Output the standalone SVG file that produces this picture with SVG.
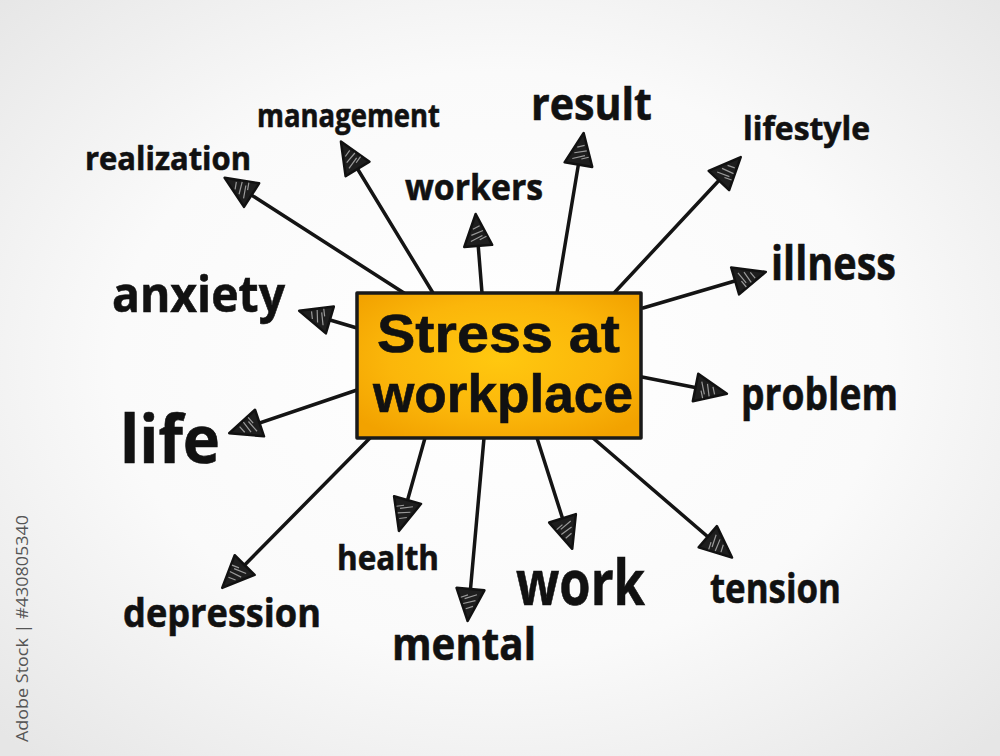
<svg xmlns="http://www.w3.org/2000/svg" width="1000" height="756" viewBox="0 0 1000 756">
<defs>
<radialGradient id="bg" cx="50%" cy="48%" r="70%">
<stop offset="0" stop-color="#ffffff"/>
<stop offset="0.55" stop-color="#fafafa"/>
<stop offset="1" stop-color="#e6e6e6"/>
</radialGradient>
<radialGradient id="boxfill" cx="50%" cy="45%" r="65%">
<stop offset="0" stop-color="#ffc80f"/>
<stop offset="0.6" stop-color="#fbb60a"/>
<stop offset="1" stop-color="#f2a200"/>
</radialGradient>
<marker id="arrow" markerUnits="userSpaceOnUse" viewBox="-3 -17 38 34" markerWidth="38" markerHeight="34" refX="28" refY="0" orient="auto">
<path d="M0,-14 L32,0 L0,14 Z" fill="#1e1e1e" stroke="#111" stroke-width="2.5" stroke-linejoin="round"/>
<path d="M5,-7 L10,5 M11,-6 L15,6 M17,-4 L20,3 M6,2 L9,9" stroke="#9a9a9a" stroke-width="1.2" fill="none"/>
</marker>
<style>
.lbl{font-family:"Open Sans","Noto Sans","Liberation Sans",sans-serif;font-weight:700;fill:#111;stroke:#111;stroke-width:0.6}
.ctr{font-family:"Liberation Sans","Arial",sans-serif;font-weight:700;fill:#111;stroke:#111;stroke-width:0.6}
.wm{font-family:"Open Sans","Liberation Sans",sans-serif;font-size:17px;fill:#555}
.conn line{stroke:#141414;stroke-width:3.5;stroke-linecap:round;marker-end:url(#arrow)}
</style>
</defs>
<rect width="1000" height="756" fill="url(#bg)"/>
<text class="wm" transform="translate(28,742) rotate(-90)" textLength="227" lengthAdjust="spacingAndGlyphs">Adobe Stock | #430805340</text>

<g id="connectors" class="conn">
<line x1="404" y1="293" x2="228" y2="180"/>
<line x1="433" y1="293" x2="343" y2="145"/>
<line x1="482" y1="293" x2="476" y2="218"/>
<line x1="557" y1="293" x2="583" y2="137"/>
<line x1="615" y1="292" x2="738" y2="160"/>
<line x1="643" y1="308" x2="762" y2="273"/>
<line x1="642" y1="377" x2="723" y2="393"/>
<line x1="357" y1="328" x2="303" y2="312"/>
<line x1="357" y1="390" x2="233" y2="432"/>
<line x1="370" y1="438" x2="225" y2="585"/>
<line x1="425" y1="438" x2="400" y2="527"/>
<line x1="484" y1="438" x2="468" y2="617"/>
<line x1="537" y1="438" x2="571" y2="545"/>
<line x1="593" y1="438" x2="729" y2="555"/>
</g>

<g id="center">
<rect x="357" y="293" width="284" height="145" fill="url(#boxfill)" stroke="#1a1a1a" stroke-width="3.5" stroke-linejoin="round"/>
<text class="ctr" x="377" y="352" font-size="53" textLength="243" lengthAdjust="spacingAndGlyphs">Stress at</text>
<text class="ctr" x="373" y="412" font-size="53" textLength="260" lengthAdjust="spacingAndGlyphs">workplace</text>
</g>

<g id="n-realization"><text class="lbl" x="85" y="170" font-size="32" textLength="166" lengthAdjust="spacingAndGlyphs">realization</text></g>
<g id="n-management"><text class="lbl" x="257" y="127" font-size="32" textLength="183" lengthAdjust="spacingAndGlyphs">management</text></g>
<g id="n-result"><text class="lbl" x="531" y="120" font-size="44" textLength="121" lengthAdjust="spacingAndGlyphs">result</text></g>
<g id="n-workers"><text class="lbl" x="405" y="200" font-size="36" textLength="138" lengthAdjust="spacingAndGlyphs">workers</text></g>
<g id="n-lifestyle"><text class="lbl" x="743" y="140" font-size="32" textLength="127" lengthAdjust="spacingAndGlyphs">lifestyle</text></g>
<g id="n-illness"><text class="lbl" x="771" y="280" font-size="46" textLength="125" lengthAdjust="spacingAndGlyphs">illness</text></g>
<g id="n-anxiety"><text class="lbl" x="112" y="312" font-size="50" textLength="173" lengthAdjust="spacingAndGlyphs">anxiety</text></g>
<g id="n-problem"><text class="lbl" x="741" y="410" font-size="44" textLength="157" lengthAdjust="spacingAndGlyphs">problem</text></g>
<g id="n-life"><text class="lbl" x="120" y="463" font-size="66" textLength="100" lengthAdjust="spacingAndGlyphs">life</text></g>
<g id="n-depression"><text class="lbl" x="123" y="627" font-size="40" textLength="198" lengthAdjust="spacingAndGlyphs">depression</text></g>
<g id="n-health"><text class="lbl" x="337" y="570" font-size="34" textLength="102" lengthAdjust="spacingAndGlyphs">health</text></g>
<g id="n-mental"><text class="lbl" x="392" y="660" font-size="44" textLength="144" lengthAdjust="spacingAndGlyphs">mental</text></g>
<g id="n-work"><text class="lbl" x="516" y="605" font-size="62" textLength="129" lengthAdjust="spacingAndGlyphs">work</text></g>
<g id="n-tension"><text class="lbl" x="710" y="603" font-size="42" textLength="131" lengthAdjust="spacingAndGlyphs">tension</text></g>
</svg>
